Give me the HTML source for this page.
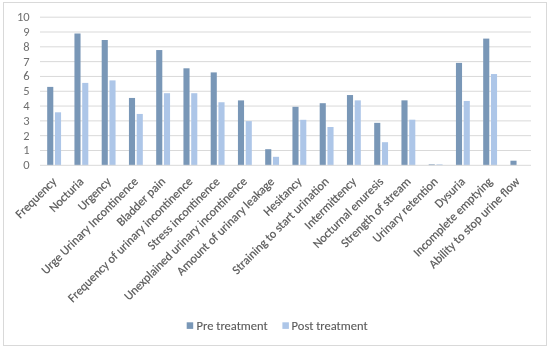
<!DOCTYPE html><html><head><meta charset="utf-8"><style>html,body{margin:0;padding:0;background:#fff;}svg{display:block;}text{font-family:Carlito, "Liberation Sans", sans-serif;fill:#595959;stroke:#595959;stroke-width:0.2px;}</style></head><body>
<svg width="550" height="350" viewBox="0 0 550 350">
<rect x="0" y="0" width="550" height="350" fill="#fff"/>
<rect x="3.5" y="2.5" width="543" height="343" fill="none" stroke="#d9d9d9" stroke-width="1"/>
<line x1="40" y1="150.49" x2="531" y2="150.49" stroke="#d9d9d9" stroke-width="1"/>
<line x1="40" y1="135.68" x2="531" y2="135.68" stroke="#d9d9d9" stroke-width="1"/>
<line x1="40" y1="120.87" x2="531" y2="120.87" stroke="#d9d9d9" stroke-width="1"/>
<line x1="40" y1="106.06" x2="531" y2="106.06" stroke="#d9d9d9" stroke-width="1"/>
<line x1="40" y1="91.25" x2="531" y2="91.25" stroke="#d9d9d9" stroke-width="1"/>
<line x1="40" y1="76.44" x2="531" y2="76.44" stroke="#d9d9d9" stroke-width="1"/>
<line x1="40" y1="61.63" x2="531" y2="61.63" stroke="#d9d9d9" stroke-width="1"/>
<line x1="40" y1="46.82" x2="531" y2="46.82" stroke="#d9d9d9" stroke-width="1"/>
<line x1="40" y1="32.01" x2="531" y2="32.01" stroke="#d9d9d9" stroke-width="1"/>
<line x1="40" y1="17.20" x2="531" y2="17.20" stroke="#d9d9d9" stroke-width="1"/>
<text x="29.60" y="169.20" font-size="12.5" text-anchor="end" style="stroke:none;fill:#6e6e6e">0</text>
<text x="29.60" y="154.39" font-size="12.5" text-anchor="end" style="stroke:none;fill:#6e6e6e">1</text>
<text x="29.60" y="139.58" font-size="12.5" text-anchor="end" style="stroke:none;fill:#6e6e6e">2</text>
<text x="29.60" y="124.77" font-size="12.5" text-anchor="end" style="stroke:none;fill:#6e6e6e">3</text>
<text x="29.60" y="109.96" font-size="12.5" text-anchor="end" style="stroke:none;fill:#6e6e6e">4</text>
<text x="29.60" y="95.15" font-size="12.5" text-anchor="end" style="stroke:none;fill:#6e6e6e">5</text>
<text x="29.60" y="80.34" font-size="12.5" text-anchor="end" style="stroke:none;fill:#6e6e6e">6</text>
<text x="29.60" y="65.53" font-size="12.5" text-anchor="end" style="stroke:none;fill:#6e6e6e">7</text>
<text x="29.60" y="50.72" font-size="12.5" text-anchor="end" style="stroke:none;fill:#6e6e6e">8</text>
<text x="29.60" y="35.91" font-size="12.5" text-anchor="end" style="stroke:none;fill:#6e6e6e">9</text>
<text x="29.60" y="21.10" font-size="12.5" text-anchor="end" style="stroke:none;fill:#6e6e6e">10</text>
<rect x="47.19" y="86.90" width="6.11" height="78.40" fill="#7997b7"/>
<rect x="54.95" y="112.30" width="6.11" height="53.00" fill="#adc6e8"/>
<rect x="74.44" y="33.50" width="6.11" height="131.80" fill="#7997b7"/>
<rect x="82.20" y="82.90" width="6.11" height="82.40" fill="#adc6e8"/>
<rect x="101.69" y="40.00" width="6.11" height="125.30" fill="#7997b7"/>
<rect x="109.45" y="80.40" width="6.11" height="84.90" fill="#adc6e8"/>
<rect x="128.94" y="97.95" width="6.11" height="67.35" fill="#7997b7"/>
<rect x="136.70" y="113.95" width="6.11" height="51.35" fill="#adc6e8"/>
<rect x="156.19" y="50.05" width="6.11" height="115.25" fill="#7997b7"/>
<rect x="163.95" y="93.20" width="6.11" height="72.10" fill="#adc6e8"/>
<rect x="183.44" y="68.30" width="6.11" height="97.00" fill="#7997b7"/>
<rect x="191.20" y="93.20" width="6.11" height="72.10" fill="#adc6e8"/>
<rect x="210.69" y="72.40" width="6.11" height="92.90" fill="#7997b7"/>
<rect x="218.45" y="102.25" width="6.11" height="63.05" fill="#adc6e8"/>
<rect x="237.94" y="100.40" width="6.11" height="64.90" fill="#7997b7"/>
<rect x="245.70" y="121.10" width="6.11" height="44.20" fill="#adc6e8"/>
<rect x="265.19" y="149.20" width="6.11" height="16.10" fill="#7997b7"/>
<rect x="272.95" y="156.80" width="6.11" height="8.50" fill="#adc6e8"/>
<rect x="292.44" y="106.80" width="6.11" height="58.50" fill="#7997b7"/>
<rect x="300.20" y="119.80" width="6.11" height="45.50" fill="#adc6e8"/>
<rect x="319.69" y="103.20" width="6.11" height="62.10" fill="#7997b7"/>
<rect x="327.45" y="127.00" width="6.11" height="38.30" fill="#adc6e8"/>
<rect x="346.94" y="95.05" width="6.11" height="70.25" fill="#7997b7"/>
<rect x="354.70" y="100.35" width="6.11" height="64.95" fill="#adc6e8"/>
<rect x="374.19" y="122.85" width="6.11" height="42.45" fill="#7997b7"/>
<rect x="381.95" y="142.20" width="6.11" height="23.10" fill="#adc6e8"/>
<rect x="401.44" y="100.35" width="6.11" height="64.95" fill="#7997b7"/>
<rect x="409.20" y="119.70" width="6.11" height="45.60" fill="#adc6e8"/>
<rect x="428.69" y="164.40" width="6.11" height="0.90" fill="#7997b7"/>
<rect x="436.45" y="164.40" width="6.11" height="0.90" fill="#adc6e8"/>
<rect x="455.94" y="62.90" width="6.11" height="102.40" fill="#7997b7"/>
<rect x="463.70" y="100.95" width="6.11" height="64.35" fill="#adc6e8"/>
<rect x="483.19" y="38.60" width="6.11" height="126.70" fill="#7997b7"/>
<rect x="490.95" y="74.05" width="6.11" height="91.25" fill="#adc6e8"/>
<rect x="510.44" y="160.70" width="6.11" height="4.60" fill="#7997b7"/>
<line x1="40" y1="165.30" x2="531" y2="165.30" stroke="#d9d9d9" stroke-width="1"/>
<text x="57.12" y="182.30" font-size="12.27" text-anchor="end" textLength="52.03" lengthAdjust="spacingAndGlyphs" transform="rotate(-45 57.12 182.30)">Frequency</text>
<text x="84.38" y="182.30" font-size="12.27" text-anchor="end" textLength="43.09" lengthAdjust="spacingAndGlyphs" transform="rotate(-45 84.38 182.30)">Nocturia</text>
<text x="111.62" y="182.30" font-size="12.27" text-anchor="end" textLength="40.94" lengthAdjust="spacingAndGlyphs" transform="rotate(-45 111.62 182.30)">Urgency</text>
<text x="138.88" y="182.30" font-size="12.27" text-anchor="end" textLength="131.00" lengthAdjust="spacingAndGlyphs" transform="rotate(-45 138.88 182.30)">Urge Urinary Incontinence</text>
<text x="166.12" y="182.30" font-size="12.27" text-anchor="end" textLength="62.98" lengthAdjust="spacingAndGlyphs" transform="rotate(-45 166.12 182.30)">Bladder pain</text>
<text x="193.38" y="182.30" font-size="12.27" text-anchor="end" textLength="170.56" lengthAdjust="spacingAndGlyphs" transform="rotate(-45 193.38 182.30)">Frequency of urinary incontinence</text>
<text x="220.62" y="182.30" font-size="12.27" text-anchor="end" textLength="96.59" lengthAdjust="spacingAndGlyphs" transform="rotate(-45 220.62 182.30)">Stress incontinence</text>
<text x="247.88" y="182.30" font-size="12.27" text-anchor="end" textLength="168.03" lengthAdjust="spacingAndGlyphs" transform="rotate(-45 247.88 182.30)">Unexplained urinary incontinence</text>
<text x="275.12" y="182.30" font-size="12.27" text-anchor="end" textLength="132.34" lengthAdjust="spacingAndGlyphs" transform="rotate(-45 275.12 182.30)">Amount of urinary leakage</text>
<text x="302.38" y="182.30" font-size="12.27" text-anchor="end" textLength="48.38" lengthAdjust="spacingAndGlyphs" transform="rotate(-45 302.38 182.30)">Hesitancy</text>
<text x="329.62" y="182.30" font-size="12.27" text-anchor="end" textLength="131.08" lengthAdjust="spacingAndGlyphs" transform="rotate(-45 329.62 182.30)">Straining to start urination</text>
<text x="356.88" y="182.30" font-size="12.27" text-anchor="end" textLength="67.33" lengthAdjust="spacingAndGlyphs" transform="rotate(-45 356.88 182.30)">Intermittency</text>
<text x="384.12" y="182.30" font-size="12.27" text-anchor="end" textLength="93.94" lengthAdjust="spacingAndGlyphs" transform="rotate(-45 384.12 182.30)">Nocturnal enuresis</text>
<text x="411.38" y="182.30" font-size="12.27" text-anchor="end" textLength="92.97" lengthAdjust="spacingAndGlyphs" transform="rotate(-45 411.38 182.30)">Strength of stream</text>
<text x="438.62" y="182.30" font-size="12.27" text-anchor="end" textLength="86.25" lengthAdjust="spacingAndGlyphs" transform="rotate(-45 438.62 182.30)">Urinary retention</text>
<text x="465.88" y="182.30" font-size="12.27" text-anchor="end" textLength="37.20" lengthAdjust="spacingAndGlyphs" transform="rotate(-45 465.88 182.30)">Dysuria</text>
<text x="493.12" y="182.30" font-size="12.27" text-anchor="end" textLength="106.03" lengthAdjust="spacingAndGlyphs" transform="rotate(-45 493.12 182.30)">Incomplete emptying</text>
<text x="520.38" y="182.30" font-size="12.27" text-anchor="end" textLength="122.53" lengthAdjust="spacingAndGlyphs" transform="rotate(-45 520.38 182.30)">Ability to stop urine flow</text>
<rect x="186.7" y="322.3" width="6.5" height="6.6" fill="#7997b7"/>
<text x="196.5" y="329.5" font-size="12.5" textLength="71.2" lengthAdjust="spacingAndGlyphs" style="stroke-width:0.1px">Pre treatment</text>
<rect x="282.4" y="322.3" width="6.5" height="6.6" fill="#adc6e8"/>
<text x="291.6" y="329.5" font-size="12.5" textLength="76.06" lengthAdjust="spacingAndGlyphs" style="stroke-width:0.1px">Post treatment</text>
</svg></body></html>
